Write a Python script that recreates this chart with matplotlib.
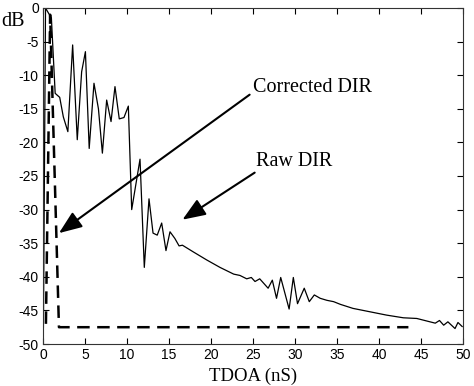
import matplotlib
matplotlib.use("Agg")
import matplotlib.pyplot as plt

plt.rcParams['axes.unicode_minus'] = False

# Raw DIR (solid)
raw_x = [0.05, 0.3, 1.0, 1.45, 1.99, 2.42, 2.96, 3.53, 4.08, 4.6, 5.05, 5.5, 6.07, 6.6,
         7.07, 7.58, 8.1, 8.57, 9.08, 9.64, 10.16, 10.56, 11.55, 12.06, 12.62, 13.1,
         13.6, 14.13, 14.64, 15.12, 15.7, 16.2, 16.6, 17.9, 19.5, 21.07, 22.7, 23.45,
         24.25, 24.8, 25.24, 25.8, 26.8, 27.3, 27.8, 28.3, 29.3, 29.8, 30.3, 31.1, 31.7,
         32.3, 33.0, 33.8, 34.6, 35.4, 36.9, 38.9, 40.9, 42.9, 44.5, 46.07, 46.7, 47.2,
         47.7, 48.2, 49.05, 49.4, 49.9]
raw_db = [-47.5, 0.0, -1.5, -12.7, -13.3, -16.2, -18.4, -5.5, -19.6, -9.5, -6.5, -20.9,
          -11.2, -15.0, -21.6, -13.7, -16.9, -11.7, -16.5, -16.3, -14.6, -30.0, -22.5,
          -38.6, -28.4, -33.5, -33.8, -32.0, -36.1, -33.3, -34.3, -35.4, -35.3, -36.3,
          -37.5, -38.6, -39.6, -39.8, -40.3, -40.1, -40.7, -40.3, -41.7, -40.5, -43.2,
          -40.1, -44.8, -40.1, -44.0, -41.7, -43.7, -42.7, -43.2, -43.5, -43.7, -44.1,
          -44.7, -45.2, -45.7, -46.1, -46.2, -46.7, -46.9, -46.5, -47.2, -46.7, -47.7,
          -46.8, -47.4]

# Corrected DIR (dashed)
cor_x = [0.35, 0.85, 1.9, 43.5]
cor_db = [-47.0, -1.0, -47.5, -47.5]

xticks = [0, 5, 10, 15, 20, 25, 30, 35, 40, 45, 50]
yticks = [0, -5, -10, -15, -20, -25, -30, -35, -40, -45, -50]

fig = plt.figure(figsize=(4.74, 3.86), dpi=100)
ax = fig.add_axes([0.0907, 0.1088, 0.8861, 0.8705])

ax.plot(raw_x, raw_db, color='black', lw=0.9)
ax.plot(cor_x, cor_db, color='black', lw=1.8, linestyle=(0, (5, 3)))

ax.set_xlim(0, 50)
ax.set_ylim(-50, 0)
ax.set_xticks(xticks)
ax.set_yticks(yticks)
ax.set_xticklabels([str(v) for v in xticks], family='Liberation Sans', fontsize=10)
ax.set_yticklabels([str(v) for v in yticks], family='Liberation Sans', fontsize=10)
ax.tick_params(direction='in', top=True, right=True, length=4, width=0.8, pad=3)
for s in ax.spines.values():
    s.set_linewidth(0.8)
    s.set_color('#333333')

ax.set_xlabel('TDOA (nS)', family='Liberation Serif', fontsize=13.5, labelpad=4)
fig.text(0.003, 0.945, 'dB', family='Liberation Serif', fontsize=14.5, va='center', ha='left')

arrowprops = dict(arrowstyle='-|>,head_length=1.4,head_width=0.55', color='black', lw=1.5,
                  shrinkA=0, shrinkB=0)
ax.annotate('', xy=(1.9, -33.5), xytext=(24.6, -12.9), arrowprops=arrowprops)
ax.text(25.0, -11.9, 'Corrected DIR', family='Liberation Serif', fontsize=14.5,
        va='center', ha='left')
ax.annotate('', xy=(16.6, -31.5), xytext=(25.2, -24.5), arrowprops=arrowprops)
ax.text(25.4, -22.9, 'Raw DIR', family='Liberation Serif', fontsize=14.5,
        va='center', ha='left')

fig.savefig('out.png', dpi=100)
